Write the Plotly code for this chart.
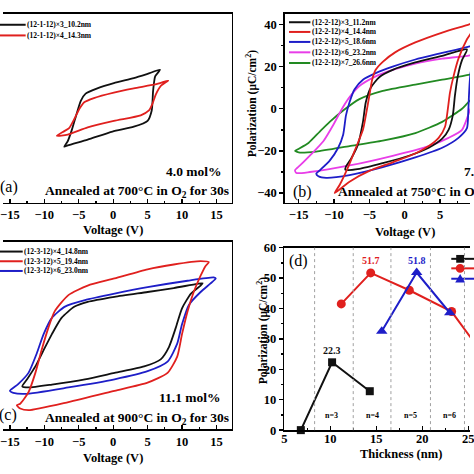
import plotly.graph_objects as go

W = H = 474
SERIF = "Liberation Serif"

def px(x):
    return x / W

def py(y):
    return 1 - y / H

# ---------------- DATA ----------------
# Panel (a): (12-1-12) series, 700 C
a_labels = ["(12-1-12)×3_10.2nm", "(12-1-12)×4_14.3nm"]
a_black_v = [6.8, 5.0, 3.0, 0.1, -2.3, -4.0, -4.7, -5.3, -6.0, -6.6, -7.1, -6.6, -3.7, -0.1, 3.0, 5.0, 5.6, 5.8, 6.1, 6.8]
a_black_p = [18.5, 16.6, 14.6, 12.2, 9.7, 7.2, 3.8, -2.3, -10.0, -15.4, -18.0, -17.4, -14.6, -10.8, -8.5, -5.7, -0.8, 8.5, 15.4, 18.5]
a_red_v = [8.0, 6.4, 3.0, 0.1, -2.8, -4.2, -4.9, -5.6, -6.4, -7.1, -8.2, -6.6, -3.7, 0.1, 4.0, 5.2, 5.7, 6.2, 6.9, 8.0]
a_red_p = [13.4, 11.8, 9.7, 7.7, 5.1, 3.1, 0.0, -4.6, -9.2, -10.6, -12.8, -12.3, -8.8, -5.7, -3.1, -0.8, 2.3, 6.9, 10.8, 13.4]

# Panel (b): (12-2-12) series, 750 C
b_labels = ["(12-2-12)×3_11.2nm", "(12-2-12)×4_14.4nm", "(12-2-12)×5_18.6nm",
            "(12-2-12)×6_23.2nm", "(12-2-12)×7_26.6nm"]
b_black_v = [8.8, 5.3, 1.5, -1.7, -3.6, -4.8, -5.5, -5.9, -6.6, -7.6, -8.3, -8.4, -6.4, -3.1, 0.6, 3.4, 5.3, 6.2, 6.8, 7.1, 7.5, 8.1, 8.8]
b_black_p = [28.2, 25.1, 22.0, 18.5, 15.0, 10.0, 3.1, -6.2, -16.9, -23.8, -27.4, -28.9, -28.5, -25.8, -22.3, -18.5, -14.2, -10.0, -3.1, 6.2, 15.4, 23.1, 28.2]
b_red_v = [10.0, 8.8, 5.3, 1.5, -1.3, -3.1, -4.1, -4.6, -5.0, -5.4, -5.9, -6.9, -8.0, -9.2, -9.9, -7.8, -5.0, -1.7, 1.5, 3.4, 4.8, 5.7, 6.1, 6.4, 6.9, 7.6, 8.8, 9.7, 10.0]
b_red_p = [41.0, 39.7, 36.2, 31.5, 26.9, 22.3, 18.5, 13.8, 6.2, -1.5, -10.0, -18.5, -27.7, -36.2, -40.0, -34.6, -29.5, -25.4, -21.2, -17.7, -13.8, -8.5, 0.0, 7.7, 15.4, 23.8, 33.0, 37.7, 41.0]
b_blue_v = [12.5, 11.5, 9.2, 5.3, 1.5, -1.7, -4.1, -5.9, -7.1, -7.8, -8.3, -8.7, -9.4, -10.6, -12.0, -12.5, -12.2, -11.1, -7.8, -3.1, 1.5, 5.3, 7.6, 8.8, 9.0, 9.4, 10.6, 12.0, 12.5]
b_blue_p = [30.8, 31.5, 29.6, 26.5, 23.4, 20.0, 16.9, 13.8, 9.2, 3.1, -3.1, -12.3, -18.5, -24.6, -29.2, -30.8, -32.0, -32.8, -31.5, -27.7, -23.1, -18.5, -13.8, -9.2, 0.0, 18.5, 24.6, 29.2, 30.8]
b_mag_v = [15.5, 15.3, 13.4, 9.2, 5.3, 1.5, -1.7, -4.1, -6.4, -8.0, -9.0, -10.1, -11.5, -13.2, -14.8, -15.5, -15.3, -13.4, -7.8, -1.7, 3.4, 6.2, 8.1, 9.2, 10.1, 11.5, 13.2, 14.8, 15.5]
b_mag_p = [29.2, 30.5, 30.0, 25.4, 23.8, 21.5, 18.5, 15.4, 10.8, 4.6, -0.8, -7.7, -15.4, -21.5, -26.9, -29.2, -30.5, -30.0, -26.9, -22.3, -17.7, -13.8, -10.0, -0.8, 7.7, 15.4, 21.5, 26.9, 29.2]
b_green_v = [15.5, 14.8, 9.2, 5.3, 1.5, -3.1, -6.4, -8.7, -10.6, -12.0, -13.6, -15.1, -15.5, -14.8, -12.5, -7.8, -3.1, 1.5, 5.3, 8.1, 9.2, 12.0, 13.6, 15.5]
b_green_p = [20.0, 20.8, 16.2, 13.8, 11.5, 8.5, 4.6, -0.8, -6.2, -10.8, -16.2, -19.2, -20.0, -20.8, -20.3, -17.7, -15.1, -11.5, -6.2, 0.0, 3.8, 10.8, 16.2, 20.0]

# Panel (c): (12-3-12) series, 900 C
c_labels = ["(12-3-12)×4_14.8nm", "(12-3-12)×5_19.4nm", "(12-3-12)×6_23.0nm"]
c_black_v = [13.0, 12.2, 8.8, 5.0, 0.2, -3.7, -5.6, -7.5, -8.9, -10.1, -11.3, -12.5, -13.2, -12.3, -8.9, -4.1, 0.2, 4.5, 6.9, 8.1, 9.1, 10.0, 11.3, 12.7, 13.0]
c_black_p = [25.0, 24.7, 22.7, 20.8, 18.5, 16.1, 13.8, 8.4, 0.6, -7.1, -14.9, -21.1, -24.5, -25.0, -23.6, -21.1, -18.0, -14.9, -11.5, -5.6, 3.7, 13.0, 20.0, 23.9, 25.0]
c_red_v = [13.9, 12.7, 8.8, 5.0, 0.2, -3.7, -6.5, -8.5, -9.4, -10.4, -11.3, -12.3, -13.5, -14.0, -13.5, -12.3, -6.5, 0.2, 5.0, 7.9, 9.3, 10.0, 10.8, 11.7, 12.7, 13.4, 13.9]
c_red_p = [35.1, 35.6, 34.0, 31.7, 27.3, 23.9, 19.3, 11.5, 3.7, -7.1, -18.0, -27.3, -32.8, -33.5, -35.1, -35.9, -32.0, -26.6, -22.7, -18.0, -10.2, 0.6, 11.5, 20.8, 28.6, 33.2, 35.1]
c_blue_v = [14.9, 14.6, 10.8, 5.0, 0.2, -4.1, -7.0, -8.9, -10.1, -11.1, -12.3, -13.8, -15.0, -14.5, -12.8, -6.5, 0.2, 5.0, 7.9, 9.3, 10.0, 11.0, 12.7, 14.1, 14.9]
c_blue_p = [27.3, 27.8, 26.2, 23.1, 20.0, 16.9, 13.8, 8.4, 0.6, -8.7, -18.0, -23.4, -26.6, -27.6, -28.1, -25.0, -21.1, -17.2, -12.6, -4.0, 5.3, 14.6, 20.8, 24.8, 27.3]

# Panel (d): polarization vs thickness
d_black_x = [6.8, 10.2, 14.3]
d_black_y = [0.0, 22.3, 12.8]
d_red_x = [11.2, 14.4, 18.6, 23.2, 26.6]
d_red_y = [41.5, 51.7, 46.0, 39.0, 25.0]
d_blue_x = [15.6, 19.4, 23.0]
d_blue_y = [32.5, 51.8, 38.6]
d_dividers = [8.3, 12.5, 16.6, 20.9, 24.6]
d_n_x = [10.1, 14.6, 18.7, 23.0]
d_n_labels = ["n=3", "n=4", "n=5", "n=6"]
d_n_y = 4.7
d_peak_x = [10.2, 14.4, 19.4]
d_peak_y = [22.3, 51.7, 51.8]

BLACK = "#111111"
RED = "#e0201e"
BLUE = "#1e1ec8"
MAG = "#e83ee8"
GREEN = "#228a22"

fig = go.Figure()

def loop(v, p, color, xa, ya):
    fig.add_trace(go.Scatter(x=v, y=p, mode="lines", xaxis=xa, yaxis=ya,
                             line=dict(color=color, width=1.8, shape="spline", smoothing=0.6),
                             showlegend=False, hoverinfo="skip"))

loop(a_black_v, a_black_p, BLACK, "x", "y")
loop(a_red_v, a_red_p, RED, "x", "y")
loop(b_green_v, b_green_p, GREEN, "x2", "y2")
loop(b_mag_v, b_mag_p, MAG, "x2", "y2")
loop(b_blue_v, b_blue_p, BLUE, "x2", "y2")
loop(b_black_v, b_black_p, BLACK, "x2", "y2")
loop(b_red_v, b_red_p, RED, "x2", "y2")
loop(c_blue_v, c_blue_p, BLUE, "x3", "y3")
loop(c_black_v, c_black_p, BLACK, "x3", "y3")
loop(c_red_v, c_red_p, RED, "x3", "y3")

for xs, ys, col, sym, sz in [(d_black_x, d_black_y, BLACK, "square", 8),
                             (d_red_x, d_red_y, RED, "circle", 9),
                             (d_blue_x, d_blue_y, BLUE, "triangle-up", 10)]:
    fig.add_trace(go.Scatter(x=xs, y=ys, mode="lines+markers", xaxis="x4", yaxis="y4",
                             line=dict(color=col, width=2), marker=dict(symbol=sym, size=sz, color=col),
                             cliponaxis=False, showlegend=False, hoverinfo="skip"))

tickfont = dict(family=SERIF, size=12.5, color="black", weight="bold")
LW = 1.5

def xax(domain, rng, anchor, dtick, mirror=True, standoff=0):
    return dict(domain=domain, range=rng, anchor=anchor, showgrid=False, zeroline=False,
                showline=True, linecolor="black", linewidth=LW, mirror=mirror,
                ticks="inside", ticklen=4, tickwidth=1.3, tickcolor="black", dtick=dtick, tick0=0,
                minor=dict(ticks="inside", ticklen=2, tickcolor="black", dtick=dtick / 2, tick0=0),
                tickfont=tickfont, ticklabeloverflow="allow", ticklabelstandoff=standoff,
                fixedrange=True)

def yax(domain, rng, anchor, dtick=None, show=True):
    if not show:
        return dict(domain=domain, range=rng, anchor=anchor, side="right", showgrid=False,
                    zeroline=False, showline=True, linecolor="black", linewidth=LW,
                    ticks="", showticklabels=False, fixedrange=True)
    return dict(domain=domain, range=rng, anchor=anchor, showgrid=False, zeroline=False,
                showline=True, linecolor="black", linewidth=LW, mirror=False,
                ticks="outside", ticklen=4, tickwidth=1.3, tickcolor="black", dtick=dtick, tick0=0,
                minor=dict(ticks="outside", ticklen=2, tickcolor="black", dtick=dtick / 2, tick0=0),
                tickfont=tickfont, ticklabeloverflow="allow", fixedrange=True)

top_dom = [py(201.7), py(7)]
fig.update_layout(
    width=W, height=H, autosize=False, margin=dict(l=0, r=0, t=0, b=0),
    paper_bgcolor="white", plot_bgcolor="white", showlegend=False,
    xaxis=xax([0, px(232.3)], [-16.0, 17.24], "y", 5),
    yaxis=yax(top_dom, [-44.6, 45.1], "x", show=False),
    xaxis2=xax([px(286), 1], [-16.95, 9.23], "y2", 5),
    yaxis2=yax(top_dom, [-44.6, 45.1], "x2", dtick=20),
    xaxis3=xax([0, px(232.3)], [-16.0, 17.24], "y3", 5),
    yaxis3=yax([py(435), py(241.7)], [-45, 45], "x3", show=False),
    xaxis4=xax([px(285.5), 1], [5, 25.2], "y4", 5, standoff=-4),
    yaxis4=yax([py(436), py(248)], [0, 60], "x4", dtick=10),
)

shapes = []
ann = []

def text(x, y, s, size=13.5, color="black", bold=True, xanchor="center", angle=0, yanchor="middle"):
    ann.append(dict(x=px(x), y=py(y), xref="paper", yref="paper", text=s, showarrow=False,
                    xanchor=xanchor, yanchor=yanchor, textangle=angle, borderpad=0,
                    font=dict(family=SERIF, size=size, color=color, weight="bold" if bold else "normal")))

def legend_lines(labels, colors, x0, x1, ys):
    for lab, col, y in zip(labels, colors, ys):
        shapes.append(dict(type="line", xref="paper", yref="paper", x0=px(x0), x1=px(x1),
                           y0=py(y), y1=py(y), line=dict(color=col, width=2)))
        text(x1 + 0.5, y, lab, size=7.5, xanchor="left")

legend_lines(a_labels, [BLACK, RED], -5, 23, [18.3, 29.3])
legend_lines(b_labels, [BLACK, RED, BLUE, MAG, GREEN], 290.3, 312, [15.7, 25.7, 36.0, 46.7, 57.7])
legend_lines(c_labels, [BLACK, RED, BLUE], -5, 20, [252, 262, 272])

# panel (d) legend (cut at right edge)
for col, y, kind in [(BLACK, 259.5, "sq"), (RED, 269.3, "ci"), (BLUE, 280, "tr")]:
    shapes.append(dict(type="line", xref="paper", yref="paper", x0=px(455), x1=px(480),
                       y0=py(y), y1=py(y), line=dict(color=col, width=2)))
    cx = 464
    if kind == "sq":
        shapes.append(dict(type="rect", xref="paper", yref="paper", x0=px(cx - 4), x1=px(cx + 4),
                           y0=py(y + 4), y1=py(y - 4), fillcolor=col, line=dict(width=0)))
    elif kind == "ci":
        shapes.append(dict(type="circle", xref="paper", yref="paper", x0=px(cx - 4.5), x1=px(cx + 4.5),
                           y0=py(y + 4.5), y1=py(y - 4.5), fillcolor=col, line=dict(width=0)))
    else:
        shapes.append(dict(type="path", xref="paper", yref="paper",
                           path=f"M {px(cx-5)} {py(y+4)} L {px(cx+5)} {py(y+4)} L {px(cx)} {py(y-5)} Z",
                           fillcolor=col, line=dict(width=0)))

# dotted dividers in (d)
for xv in d_dividers:
    shapes.append(dict(type="line", xref="x4", yref="y4 domain", x0=xv, x1=xv, y0=0, y1=1,
                       line=dict(color="#a0a0a0", width=1, dash="dot")))

for xv, lab in zip(d_n_x, d_n_labels):
    ann.append(dict(x=xv, y=d_n_y, xref="x4", yref="y4", text=lab, showarrow=False,
                    font=dict(family=SERIF, size=8, color="black", weight="bold")))

for xv, yv, col in zip(d_peak_x, d_peak_y, [BLACK, RED, BLUE]):
    ann.append(dict(x=xv, y=yv, xref="x4", yref="y4", text=f"{yv:.1f}", showarrow=False,
                    yshift=12, font=dict(family=SERIF, size=10, color=col, weight="bold")))

# panel texts
text(223, 169, "4.0 mol%", xanchor="right")
text(41.7, 190, "Annealed at 700°C in O<sub>2</sub> for 30s", xanchor="left")
text(6.5, 185, "(a)", size=16, bold=False)
text(467, 170, "7.7 mol%", xanchor="left")
text(338.7, 191, "Annealed at 750°C in O<sub>2</sub> for 30s", xanchor="left")
text(304, 190.5, "(b)", size=16, bold=False)
text(222, 402, "11.1 mol%", xanchor="right")
text(41.7, 423.7, "Annealed at 900°C in O<sub>2</sub> for 30s", xanchor="left")
text(5, 420, "(c)", size=16, bold=False)
text(300.3, 262, "(d)", size=16, bold=False)

# axis titles
text(112, 230, "Voltage (V)", size=12.5)
text(408, 231.5, "Voltage (V)", size=12.5)
text(112, 465, "Voltage (V)", size=12.5)
text(404, 461, "Thickness (nm)", size=12.5)
text(252, 100, "Polarization (μC/cm<sup>2</sup>)", size=11.5, angle=-90)
text(263, 334, "Polarization (μC/cm<sup>2</sup>)", size=11.5, angle=-90)

fig.update_layout(shapes=shapes, annotations=ann)
fig.write_html("out.html", config={"displayModeBar": False, "staticPlot": True})
